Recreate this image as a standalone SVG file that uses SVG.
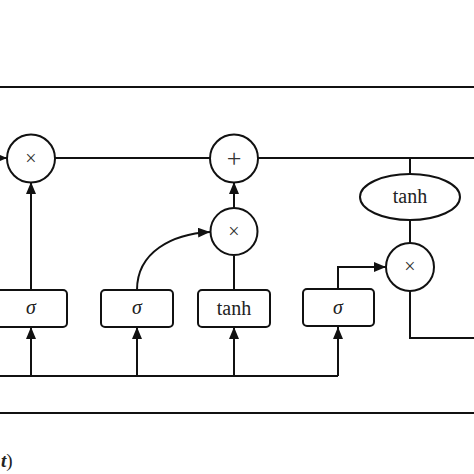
<svg xmlns="http://www.w3.org/2000/svg" width="474" height="474" viewBox="0 0 474 474">
<style>
.ln{fill:none;stroke:#111;stroke-width:2}
.nd{fill:#fff;stroke:#111;stroke-width:2}
.op{font-family:"Liberation Serif",serif;font-size:20px;fill:#333;text-anchor:middle}
.pl{font-size:26px}
.lb{font-family:"Liberation Serif",serif;font-size:20px;fill:#222;text-anchor:middle}
.sg{font-style:italic}
</style>
<defs>
<marker id="ah" viewBox="0 0 12 10" refX="12" refY="5" markerWidth="12" markerHeight="10" markerUnits="userSpaceOnUse" orient="auto">
<path d="M0,0 L12,5 L0,10 Z" fill="#111"/>
</marker>
</defs>
<rect width="474" height="474" fill="#fff"/>
<g id="connectors">
<line class="ln" x1="0" y1="87" x2="474" y2="87"/>
<line class="ln" x1="0" y1="413" x2="474" y2="413"/>
<line class="ln" x1="-20" y1="158" x2="7" y2="158" marker-end="url(#ah)"/>
<line class="ln" x1="55" y1="158" x2="210" y2="158"/>
<line class="ln" x1="258" y1="158" x2="474" y2="158"/>
<line class="ln" x1="31" y1="290" x2="31" y2="182" marker-end="url(#ah)"/>
<line class="ln" x1="234" y1="208" x2="234" y2="182" marker-end="url(#ah)"/>
<line class="ln" x1="234" y1="290" x2="234" y2="256"/>
<path class="ln" d="M137,290 C137,252 172,234 210,232" marker-end="url(#ah)"/>
<line class="ln" x1="410" y1="158" x2="410" y2="174"/>
<line class="ln" x1="410" y1="220" x2="410" y2="243"/>
<path class="ln" d="M338,289 V267 H386" marker-end="url(#ah)"/>
<path class="ln" d="M410,291 V338 H474"/>
<line class="ln" x1="0" y1="376" x2="338" y2="376" stroke-width="2.5"/>
<line class="ln" x1="31" y1="376" x2="31" y2="327" marker-end="url(#ah)"/>
<line class="ln" x1="137" y1="376" x2="137" y2="327" marker-end="url(#ah)"/>
<line class="ln" x1="234" y1="376" x2="234" y2="327" marker-end="url(#ah)"/>
<path class="ln" d="M338,376 V327" marker-end="url(#ah)"/>
</g>
<g id="mul1"><circle class="nd" cx="31" cy="158.5" r="24"/><text class="op" x="31" y="165">×</text></g>
<g id="add"><circle class="nd" cx="234" cy="158.5" r="24"/><text class="op pl" x="234" y="167">+</text></g>
<g id="mul2"><circle class="nd" cx="234" cy="231.5" r="23.5"/><text class="op" x="234" y="238">×</text></g>
<g id="tanhc"><ellipse class="nd" cx="410" cy="197" rx="50" ry="23"/><text class="lb" x="410" y="203">tanh</text></g>
<g id="mul3"><circle class="nd" cx="410" cy="267" r="24"/><text class="op" x="410" y="273">×</text></g>
<g id="sig1"><rect class="nd" x="-5" y="290" width="72" height="37" rx="4"/><text class="lb sg" x="31" y="314">σ</text></g>
<g id="sig2"><rect class="nd" x="101" y="290" width="72" height="37" rx="4"/><text class="lb sg" x="137" y="314">σ</text></g>
<g id="tanhb"><rect class="nd" x="198" y="290" width="72" height="37" rx="4"/><text class="lb" x="234" y="315">tanh</text></g>
<g id="sig3"><rect class="nd" x="303" y="289" width="71" height="37" rx="4"/><text class="lb sg" x="338" y="314">σ</text></g>
<text x="1" y="467" font-family="Liberation Serif,serif" font-size="19" fill="#222"><tspan font-style="italic" font-weight="bold">t</tspan>)</text>
</svg>
